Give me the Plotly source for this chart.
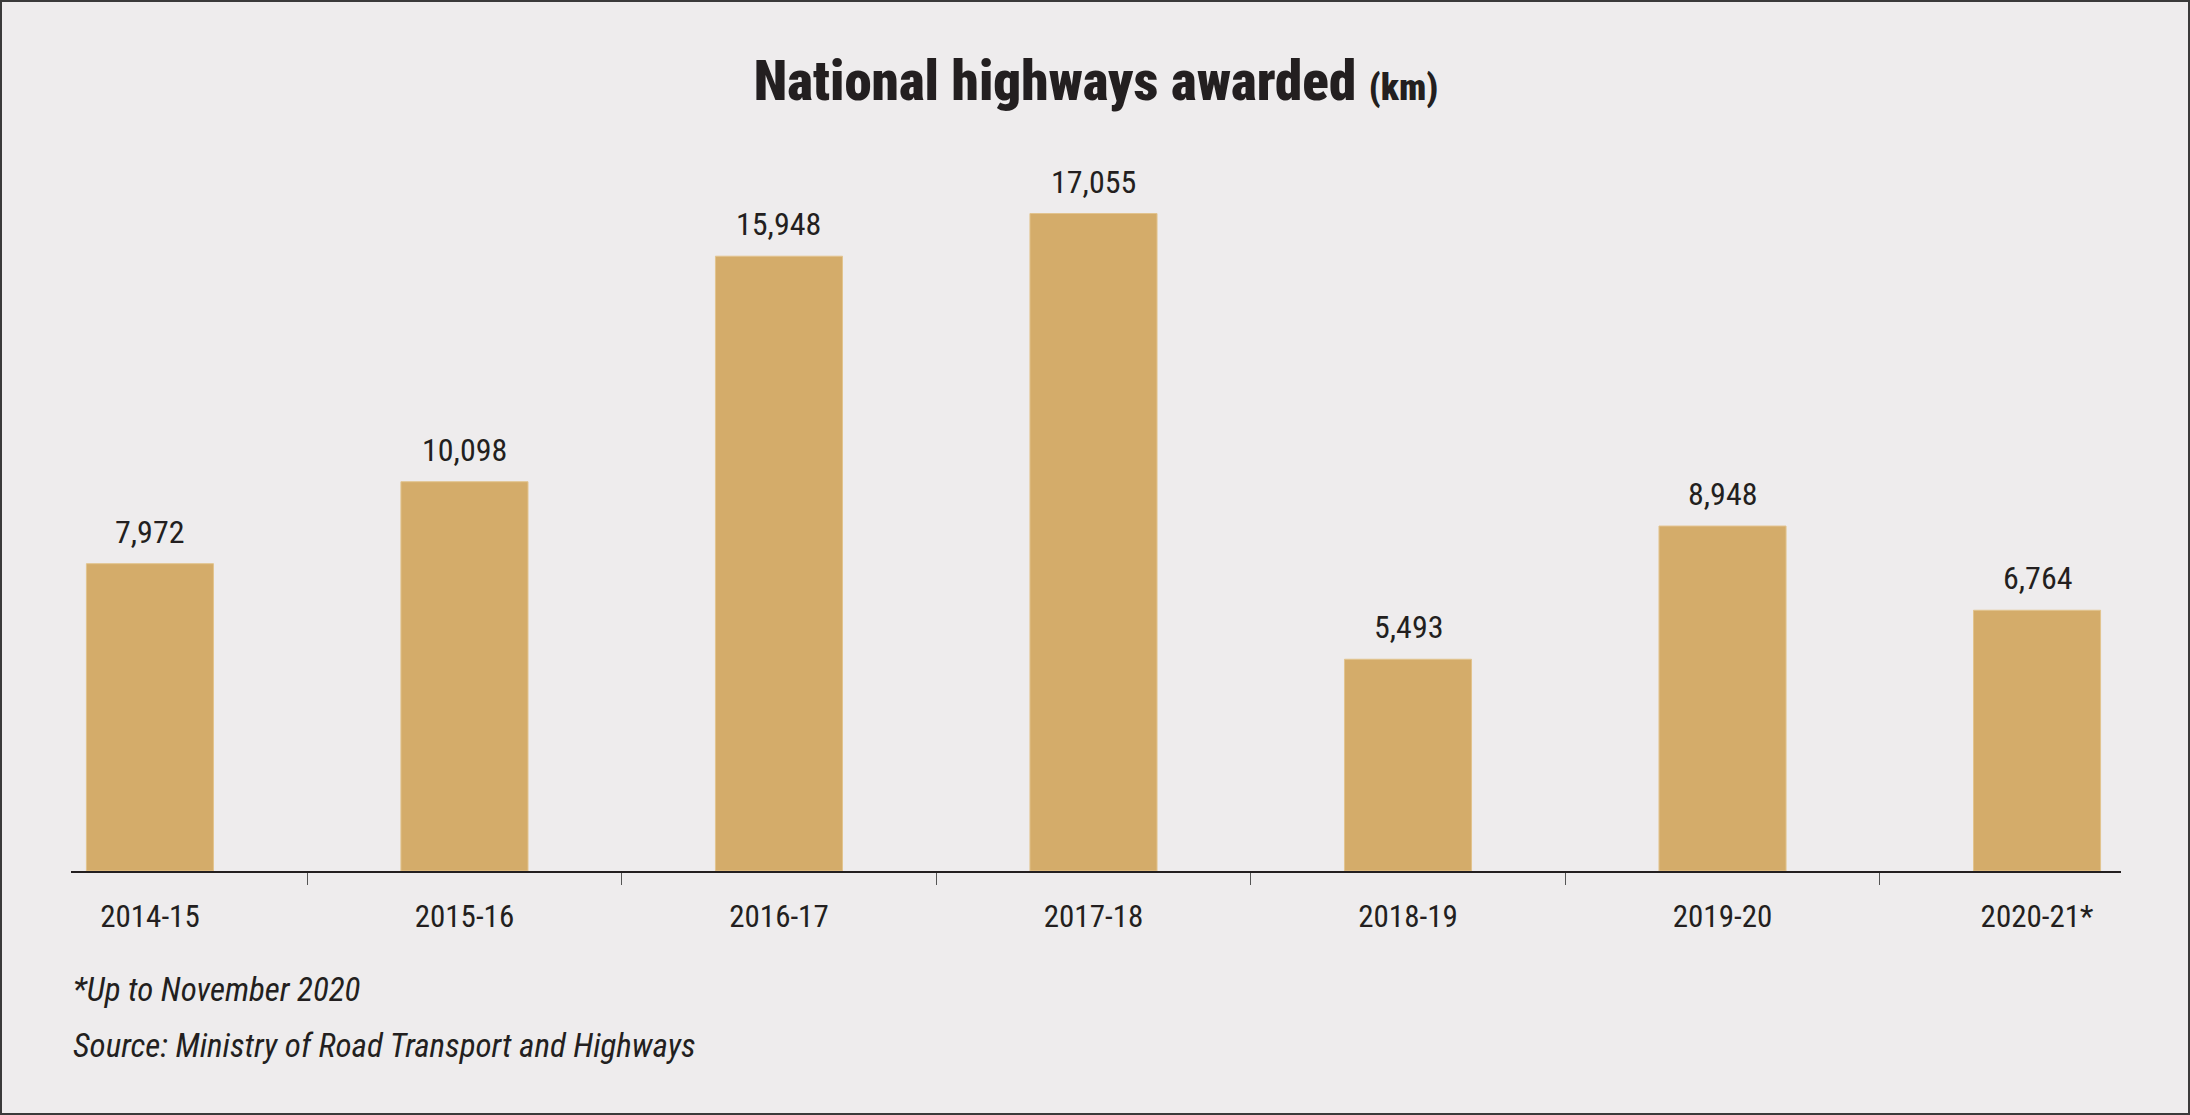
import plotly.graph_objects as go

years = ["2014-15", "2015-16", "2016-17", "2017-18", "2018-19", "2019-20", "2020-21*"]
km_awarded = [7972, 10098, 15948, 17055, 5493, 8948, 6764]
value_labels = ["7,972", "10,098", "15,948", "17,055", "5,493", "8,948", "6,764"]

title_main = "National highways awarded"
title_unit = "(km)"
footnote = "*Up to November 2020"
source = "Source: Ministry of Road Transport and Highways"

W, H = 2190, 1115
ML, MR, MT, MB = 71, 69, 150, 244
PW, PH = W - ML - MR, H - MT - MB

BG = "#EEECED"
BAR = "#D4AC6A"
INK = "#231F20"
NARROW = "Roboto Condensed, Liberation Sans Narrow, Arial Narrow, DejaVu Sans Condensed, sans-serif"

fig = go.Figure()
fig.add_trace(go.Bar(
    x=years, y=km_awarded, width=0.404,
    marker=dict(color=BAR, line=dict(color="#E2C48E", width=1)),
    hoverinfo="skip",
))

for yr, v, lab in zip(years, km_awarded, value_labels):
    fig.add_annotation(x=yr, y=v, text=lab, showarrow=False, yanchor="bottom",
                       yshift=11, font=dict(family=NARROW, size=32, color=INK))

fig.add_annotation(xref="paper", yref="paper", x=0, y=(871 - 989) / PH, xshift=0,
                   xanchor="left", yanchor="middle", showarrow=False,
                   text=f"<i>{footnote}</i>", font=dict(family=NARROW, size=33, color=INK))
fig.add_annotation(xref="paper", yref="paper", x=0, y=(871 - 1045) / PH, xshift=0,
                   xanchor="left", yanchor="middle", showarrow=False,
                   text=f"<i>{source}</i>", font=dict(family=NARROW, size=33, color=INK))

# frame around the whole graphic
fig.add_shape(type="rect", xref="paper", yref="paper",
              x0=-(ML - 1) / PW, x1=1 + (MR - 1) / PW,
              y0=-(MB - 1) / PH, y1=1 + (MT - 1) / PH,
              line=dict(color="#3A3A3A", width=2), fillcolor="rgba(0,0,0,0)", layer="above")

fig.update_layout(
    width=W, height=H,
    margin=dict(l=ML, r=MR, t=MT, b=MB, pad=0),
    paper_bgcolor=BG, plot_bgcolor=BG,
    showlegend=False,
    bargap=0.6,
    title=dict(
        text=f"{title_main} <span style='font-size:37px'>{title_unit}</span>",
        x=0.5, xanchor="center", xref="paper",
        y=1 - 81 / H, yanchor="middle",
        font=dict(family=NARROW, size=55, color=INK, weight=900),
    ),
    xaxis=dict(
        type="category", range=[-0.251, 6.267],
        showline=True, linecolor=INK, linewidth=1.5,
        ticks="outside", tickson="boundaries", ticklen=12, tickwidth=1, tickcolor="#555555",
        ticklabelstandoff=17,
        tickfont=dict(family=NARROW, size=31, color=INK),
        showgrid=False, zeroline=False, fixedrange=True,
    ),
    yaxis=dict(
        range=[0, 18703], visible=False, showgrid=False, zeroline=False, fixedrange=True,
    ),
)

fig.write_html("out.html")
